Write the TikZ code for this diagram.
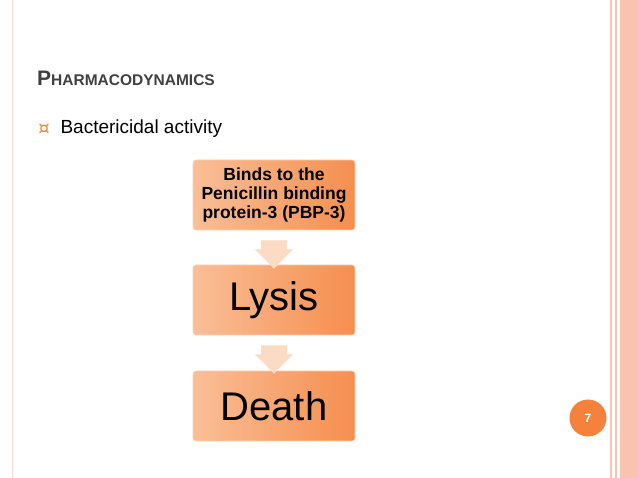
\documentclass[tikz,border=0pt]{standalone}
\usepackage{fontspec}
\setmainfont{Liberation Sans}
\newfontfamily\djv{DejaVu Sans}
\usetikzlibrary{shapes.arrows}
\definecolor{org}{RGB}{244,130,60}
\definecolor{orgl}{RGB}{250,190,150}
\definecolor{pinkb}{RGB}{250,195,175}
\definecolor{txt}{RGB}{64,64,64}
\tikzset{
  stepbox/.style={draw=orgl!70!white, line width=0.6pt, rounded corners=3pt, minimum width=162pt, minimum height=70pt, left color=orgl, right color=org!90!white, align=center, inner sep=2pt},
  darr/.style={single arrow, shape border rotate=270, fill=orgl!55!white, draw=orgl!40!white, minimum width=38pt, single arrow head extend=2pt, minimum height=28pt, inner sep=4pt}
}
\begin{document}
\begin{tikzpicture}[x=1pt,y=-1pt]
\useasboundingbox (0,0) rectangle (638,478);
\fill[white] (0,0) rectangle (638,478);
\fill[pinkb] (620,0) rectangle (638,478);
\draw[pinkb,line width=1.2pt] (611,0) -- (611,478);
\draw[pinkb,line width=1.5pt] (616,0) -- (616,478);
\draw[pinkb!60!white,line width=0.8pt] (12,0) -- (12,478);
\node[anchor=base west, text=txt, font=\bfseries\fontsize{21}{24}\selectfont, inner sep=0] (title) at (37,86) {P{\fontsize{15.5}{18}\selectfont HARMACODYNAMICS}};
\node[text=org, font=\djv\fontsize{18}{20}\selectfont] (bul) at (44,129) {¤};
\node[anchor=west, text=black, font=\fontsize{19}{22}\selectfont] (sub) at (57,129) {Bactericidal activity};
\node[stepbox, font=\bfseries\fontsize{17.5}{19}\selectfont] (b1) at (274,195) {Binds to the\\Penicillin binding\\protein-3 (PBP-3)};
\node[stepbox, font=\fontsize{40}{44}\selectfont] (b2) at (274,300) {Lysis};
\node[stepbox, font=\fontsize{40}{44}\selectfont] (b3) at (274,406) {Death};
\node[darr] (a1) at (274,248) {};
\node[darr] (a2) at (274,353) {};
\node[circle, fill=org, minimum size=37pt, text=white, font=\bfseries\fontsize{12}{14}\selectfont] (pg) at (588,418) {7};
\end{tikzpicture}
\end{document}
